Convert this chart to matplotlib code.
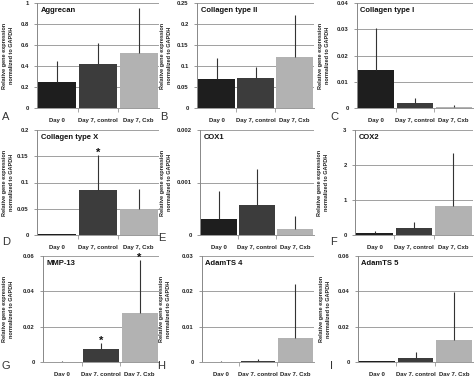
import matplotlib
matplotlib.use("Agg")
import matplotlib.pyplot as plt
from matplotlib.ticker import FixedLocator

plt.rcParams['font.family'] = ['Liberation Sans Narrow', 'Liberation Sans', 'DejaVu Sans']

categories = ["Day 0", "Day 7, control", "Day 7, Cxb"]

titles = ["Aggrecan", "Collagen type II", "Collagen type I",
          "Collagen type X", "COX1", "COX2",
          "MMP-13", "AdamTS 4", "AdamTS 5"]
letters = ["A", "B", "C", "D", "E", "F", "G", "H", "I"]

aggrecan = [0.25, 0.42, 0.52]
aggrecan_err = [0.20, 0.20, 0.43]
col2 = [0.068, 0.072, 0.122]
col2_err = [0.052, 0.026, 0.100]
col1 = [0.0145, 0.0018, 0.0005]
col1_err = [0.016, 0.002, 0.0005]
col10 = [0.001, 0.085, 0.050]
col10_err = [0.001, 0.067, 0.037]
cox1 = [0.00030, 0.00058, 0.00011]
cox1_err = [0.00054, 0.00067, 0.00025]
cox2 = [0.05, 0.20, 0.82]
cox2_err = [0.07, 0.17, 1.53]
mmp13 = [0.0002, 0.0072, 0.028]
mmp13_err = [0.0001, 0.0038, 0.030]
adamts4 = [0.0001, 0.0004, 0.0068]
adamts4_err = [0.0001, 0.0004, 0.0152]
adamts5 = [0.0003, 0.0025, 0.0125]
adamts5_err = [0.0001, 0.0033, 0.027]

values = [aggrecan, col2, col1, col10, cox1, cox2, mmp13, adamts4, adamts5]
errors = [aggrecan_err, col2_err, col1_err, col10_err, cox1_err, cox2_err,
          mmp13_err, adamts4_err, adamts5_err]

yticks = [
    [0, 0.2, 0.4, 0.6, 0.8, 1],
    [0, 0.05, 0.1, 0.15, 0.2, 0.25],
    [0, 0.01, 0.02, 0.03, 0.04],
    [0, 0.05, 0.1, 0.15, 0.2],
    [0, 0.001, 0.002],
    [0, 1, 2, 3],
    [0, 0.02, 0.04, 0.06],
    [0, 0.01, 0.02, 0.03],
    [0, 0.02, 0.04, 0.06],
]
ytick_labels = [
    ["0", "0.2", "0.4", "0.6", "0.8", "1"],
    ["0", "0.05", "0.1", "0.15", "0.2", "0.25"],
    ["0", "0.01", "0.02", "0.03", "0.04"],
    ["0", "0.05", "0.1", "0.15", "0.2"],
    ["0", "0.001", "0.002"],
    ["0", "1", "2", "3"],
    ["0", "0.02", "0.04", "0.06"],
    ["0", "0.01", "0.02", "0.03"],
    ["0", "0.02", "0.04", "0.06"],
]
# asterisk markers: (panel index, category index)
asterisks = [(3, 1), (6, 1), (6, 2)]

colors = ["#1e1e1e", "#3c3c3c", "#b2b2b2"]

W, H = 474, 376
fig = plt.figure(figsize=(W / 100, H / 100), dpi=100)
fig.patch.set_facecolor("white")

lefts = [[37, 197, 357], [37, 200, 355], [43, 202, 358]]
rights = [160, 315, 474]
tops = [3, 130, 256]
bottoms = [108, 235, 362]
ylabel_x = [[8, 166, 324], [8, 166, 323], [8, 165, 325]]
letter_pos = [[(2, 117), (160, 117), (330, 117)],
              [(2, 242), (158, 238), (330, 242)],
              [(2, 366), (157, 366), (330, 366)]]

for i in range(9):
    r, c = divmod(i, 3)
    l = lefts[r][c]
    w = rights[c] - l - 1
    t = tops[r]
    b = bottoms[r]
    ax = fig.add_axes([l / W, 1 - b / H, w / W, (b - t) / H])
    x = list(range(3))
    ax.bar(x, values[i], width=0.93, color=colors, zorder=3)
    ax.errorbar(x, values[i], yerr=[[0, 0, 0], errors[i]], fmt="none",
                ecolor="#333333", elinewidth=0.8, capsize=0, zorder=4)
    ax.set_xlim(-0.5, 2.5)
    ax.set_ylim(yticks[i][0], yticks[i][-1])
    ax.set_yticks(yticks[i])
    ax.set_yticklabels(ytick_labels[i], fontsize=4.2, fontweight="bold", color="#222222")
    ax.set_xticks(x)
    ax.set_xticklabels(categories, fontsize=4.3, fontweight="bold", color="#222222")
    ax.xaxis.set_minor_locator(FixedLocator([0.5, 1.5]))
    ax.tick_params(axis="x", which="major", length=0, pad=7)
    ax.tick_params(axis="x", which="minor", length=3, color="#999999", width=0.6)
    ax.tick_params(axis="y", length=2, width=0.6, color="#888888", pad=4)
    ax.yaxis.grid(True, color="#a0a0a0", linewidth=0.7, zorder=0)
    ax.set_axisbelow(True)
    for s in ["top", "right"]:
        ax.spines[s].set_visible(False)
    ax.spines["left"].set_color("#888888")
    ax.spines["left"].set_linewidth(0.7)
    ax.spines["bottom"].set_color("#999999")
    ax.spines["bottom"].set_linewidth(0.7)
    ax.set_ylabel("Relative gene expression\nnormalized to GAPDH", fontsize=4.0,
                  fontweight="bold", color="#222222", linespacing=1.3)
    ax.yaxis.set_label_coords((ylabel_x[r][c] - l) / w, 0.5)
    ax.yaxis.label.set_va("center")
    ax.text(0.03, 0.96, titles[i], transform=ax.transAxes, fontsize=5.5,
            fontweight="bold", ha="left", va="top", color="#111111")
    for (pi, ci) in asterisks:
        if pi == i:
            top = values[i][ci] + errors[i][ci]
            ax.text(ci, top + (yticks[i][-1]) * 0.02, "*", ha="center", va="center",
                    fontsize=8, fontweight="bold", color="#111111", zorder=5)
    lx, ly = letter_pos[r][c]
    fig.text(lx / W, 1 - ly / H, letters[i], fontsize=8, color="#333333",
             ha="left", va="center")

fig.savefig("out.png", dpi=100, facecolor="white")
